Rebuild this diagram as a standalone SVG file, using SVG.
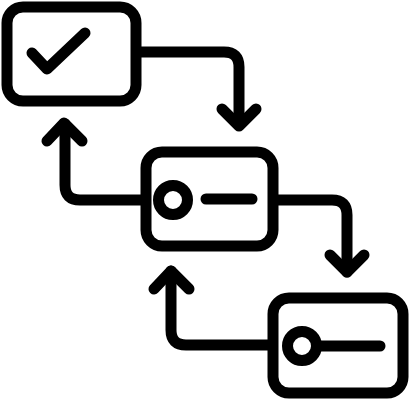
<svg xmlns="http://www.w3.org/2000/svg" width="410" height="400" viewBox="0 0 410 400">
<style>
.s{fill:none;stroke:#000;stroke-width:11;stroke-linecap:round;stroke-linejoin:round}
.b{fill:#fff;stroke:#000;stroke-width:11}
</style>
<rect width="410" height="400" fill="#fff"/>
<g id="connectors">
<path class="s" d="M136,52 H224 Q239,52 239,67 V125"/>
<path class="s" d="M222,109 L239,126 L256,109"/>
<path class="s" d="M146,200 H80 Q65,200 65,185 V124"/>
<path class="s" d="M47,141 L64,123 L82,141"/>
<path class="s" d="M272,200 H332 Q347,200 347,215 V272"/>
<path class="s" d="M330,255 L347,272 L364,255"/>
<path class="s" d="M273,345 H186 Q171,345 171,330 V271"/>
<path class="s" d="M154,289 L171,271 L189,289"/>
</g>
<g id="node1">
<rect class="b" x="7" y="7" width="129" height="94" rx="16"/>
<path class="s" d="M32,53 L47,69 L85,33"/>
</g>
<g id="node2">
<rect class="b" x="146" y="152" width="127" height="94" rx="16"/>
<circle class="s" cx="173" cy="200" r="14.5"/>
<path class="s" d="M206,199 H252"/>
</g>
<g id="node3">
<rect class="b" x="273" y="298" width="130" height="95" rx="16"/>
<circle class="s" cx="302" cy="346" r="14.5"/>
<path class="s" d="M318,346 H380"/>
</g>
</svg>
